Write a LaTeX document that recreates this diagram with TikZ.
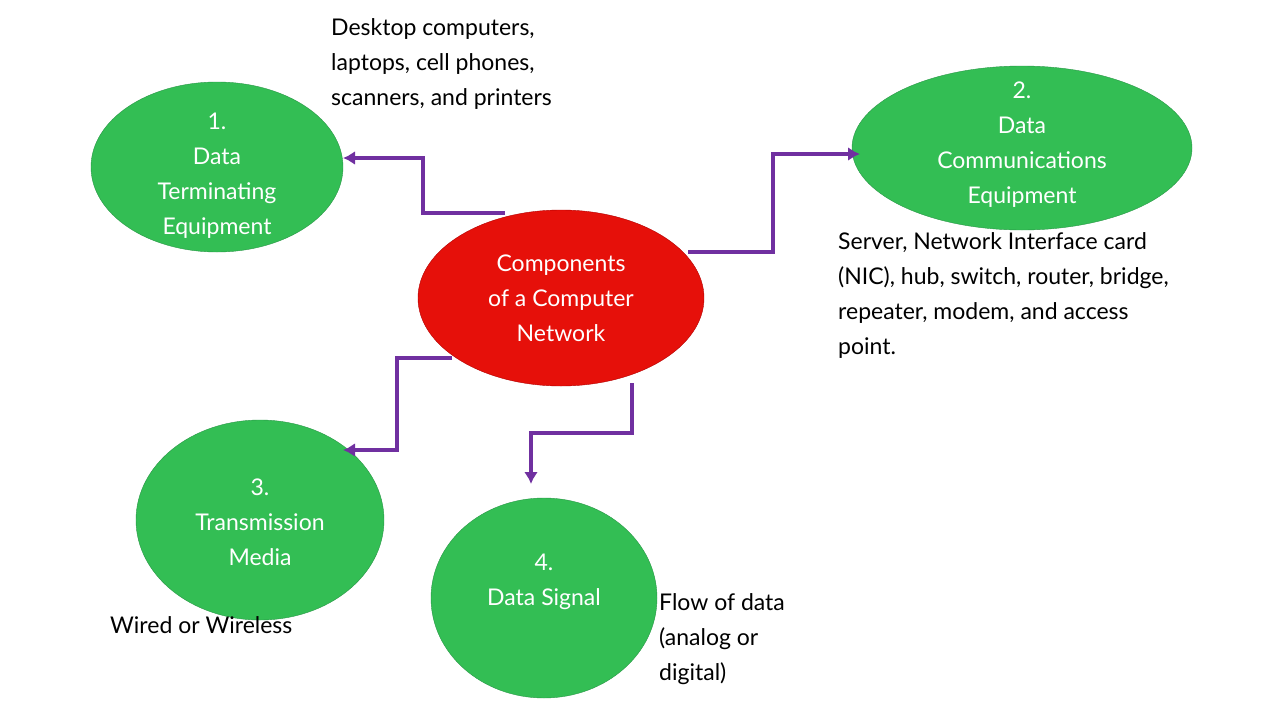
\documentclass[tikz,border=0pt]{standalone}
\usepackage{fontspec}
\setmainfont{Lato}
\begin{document}
\begin{tikzpicture}[x=1pt,y=-1pt,
 g/.style={ellipse,fill=green!60!black!75!white,fill=gfill,draw=gdraw,line width=1pt},
 t/.style={text=white,align=center,font=\fontsize{23}{35}\selectfont},
 c/.style={draw=arrowc,line width=4pt,-{Latex[length=12pt,width=14pt]}},
 lab/.style={align=left,anchor=north west,font=\fontsize{23}{35}\selectfont,inner sep=0}]
\usetikzlibrary{shapes.geometric,arrows.meta}
\definecolor{gfill}{RGB}{51,190,84}
\definecolor{gdraw}{RGB}{40,150,70}
\definecolor{rfill}{RGB}{230,16,10}
\definecolor{arrowc}{RGB}{112,48,160}
\useasboundingbox (0,0) rectangle (1280,720);
\fill[gfill,draw=gdraw] (217,167) ellipse [x radius=126,y radius=85];
\node[t] (n1) at (217,176) {1.\\Data\\Terminating\\Equipment};
\fill[gfill,draw=gdraw] (1022,148) ellipse [x radius=170,y radius=82];
\node[t] (n2) at (1022,145) {2.\\Data\\Communications\\Equipment};
\fill[rfill,draw=red!70!black] (561,298) ellipse [x radius=143,y radius=88];
\node[t] (c) at (561,298) {Components\\of a Computer\\Network};
\fill[gfill,draw=gdraw] (260,520) ellipse [x radius=124,y radius=100];
\node[t] (n3) at (260,522) {3.\\Transmission\\Media};
\fill[gfill,draw=gdraw] (544,598) ellipse [x radius=113,y radius=100];
\node[t] (n4) at (544,582) {4.\\Data Signal};
\coordinate (a1) at (505,213); \coordinate (b1) at (343,158);
\draw[c] (a1) -- (423,213) -- (423,158) -- (b1);
\coordinate (a2) at (688,252); \coordinate (b2) at (860,154);
\draw[c] (a2) -- (773,252) -- (773,154) -- (b2);
\coordinate (a3) at (452,358); \coordinate (b3) at (343,450);
\draw[c] (a3) -- (397,358) -- (397,450) -- (b3);
\coordinate (a4) at (632,383); \coordinate (b4) at (531,484);
\draw[c] (a4) -- (632,433) -- (531,433) -- (b4);
\node[lab] (l1) at (331,18) {Desktop computers,\\laptops, cell phones,\\scanners, and printers};
\node[lab] (l2) at (838,232) {Server, Network Interface card\\(NIC), hub, switch, router, bridge,\\repeater, modem, and access\\point.};
\node[lab] (l3) at (110,616) {Wired or Wireless};
\node[lab] (l4) at (659,593) {Flow of data\\(analog or\\digital)};
\end{tikzpicture}
\end{document}
